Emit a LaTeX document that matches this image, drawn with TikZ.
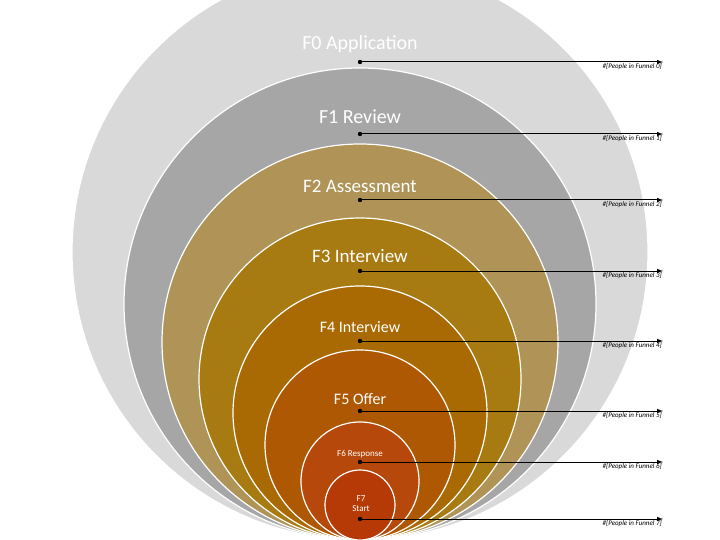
\documentclass[tikz,border=0pt]{standalone}
\usepackage{fontspec}
\setmainfont{Carlito}
\usetikzlibrary{arrows}
\definecolor{fzero}{HTML}{D9D9D9}
\definecolor{fone}{HTML}{A6A6A6}
\definecolor{ftwo}{HTML}{B09356}
\definecolor{fthree}{HTML}{A87B12}
\definecolor{ffour}{HTML}{A96A03}
\definecolor{ffive}{HTML}{AE5803}
\definecolor{fsix}{HTML}{B5480A}
\definecolor{fseven}{HTML}{B53A05}
\tikzset{
    funnel/.style = {
        draw=white,
        line width=1.2pt
    },
    stage/.style = {
        text=white,
        align=center,
        inner sep=0pt
    },
    count/.style = {
        font=\itshape\fontsize{7}{8}\selectfont,
        anchor=north east,
        inner sep=1pt
    }
}
\begin{document}
\begin{tikzpicture}[x=1pt,y=-1pt]
    \useasboundingbox (0,0) rectangle (720,540);
    \clip (0,0) rectangle (720,540);
    % nested circles, all touching at the bottom
    \foreach \r/\c in {288/fzero,236/fone,198/ftwo,161/fthree,127/ffour,95/ffive,59/fsix,35/fseven}
        \fill[\c, funnel] (360,540-\r) circle (\r);
    % stage titles
    \node[stage, font=\fontsize{20}{22}\selectfont] (f0) at (360,44) {F0 Application};
    \node[stage, font=\fontsize{20}{22}\selectfont] (f1) at (360,117) {F1 Review};
    \node[stage, font=\fontsize{19}{21}\selectfont] (f2) at (360,186) {F2 Assessment};
    \node[stage, font=\fontsize{19}{21}\selectfont] (f3) at (360,256) {F3 Interview};
    \node[stage, font=\fontsize{16}{18}\selectfont] (f4) at (360,327) {F4 Interview};
    \node[stage, font=\fontsize{16}{18}\selectfont] (f5) at (360,399) {F5 Offer};
    \node[stage, font=\fontsize{9}{10}\selectfont] (f6) at (360,454) {F6 Response};
    \node[stage, font=\fontsize{9}{10}\selectfont] (f7) at (361,504) {F7\\Start};
    % counts
    \foreach \i/\y in {0/62,1/134,2/200,3/271,4/341,5/411,6/462,7/519} {
        \coordinate (s\i) at (360,\y);
        \coordinate (e\i) at (663,\y);
        \fill (s\i) circle (2.2);
        \draw[-latex, line width=1pt] (s\i) -- (e\i);
        \node[count] (n\i) at (e\i) {\#[People in Funnel \i]};
    }
\end{tikzpicture}
\end{document}
